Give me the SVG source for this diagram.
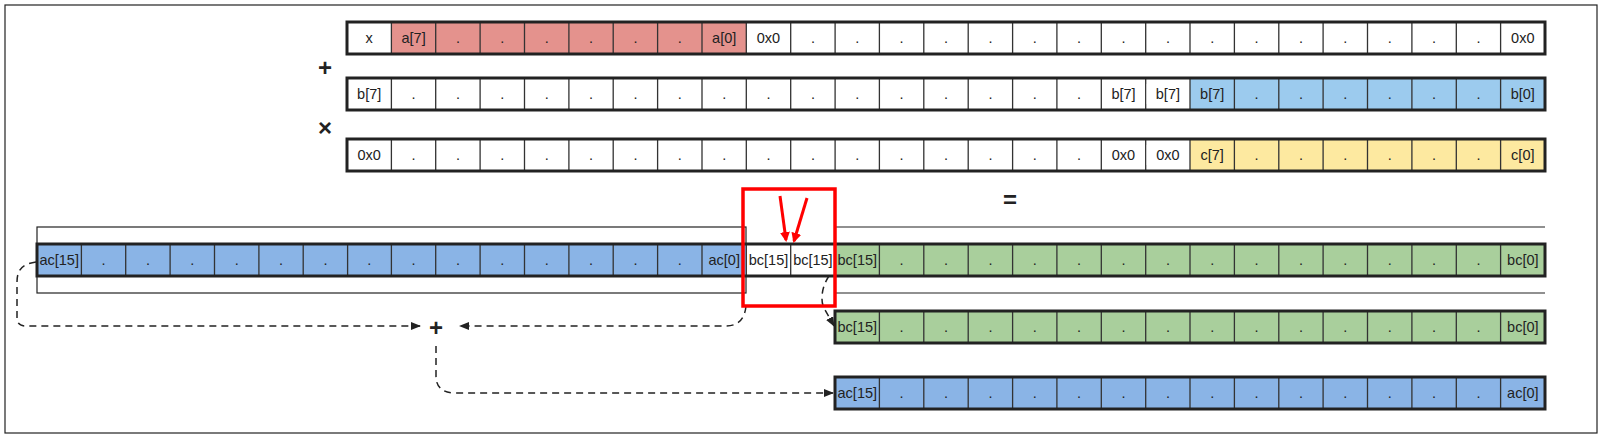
<svg xmlns="http://www.w3.org/2000/svg" xmlns:xlink="http://www.w3.org/1999/xlink" width="1602" height="443" viewBox="0 0 1602 443">
<style>
text{font-family:"Liberation Sans",Arial,sans-serif;font-size:14.5px;fill:#222;text-anchor:middle}
.op{font-size:24px;font-weight:bold}
.frame{fill:none;stroke:#222;stroke-width:3}
.vl{fill:none;stroke:#333;stroke-width:1.3}
.thin{fill:none;stroke:#222;stroke-width:1.2}
.dash{fill:none;stroke:#222;stroke-width:1.5;stroke-dasharray:7,5}
</style>
<defs>
<path id="vl" class="vl" d="M391.4 0v32M435.7 0v32M480.1 0v32M524.5 0v32M568.9 0v32M613.2 0v32M657.6 0v32M702 0v32M746.3 0v32M790.7 0v32M835.1 0v32M879.4 0v32M923.8 0v32M968.2 0v32M1012.6 0v32M1056.9 0v32M1101.3 0v32M1145.7 0v32M1190 0v32M1234.4 0v32M1278.8 0v32M1323.1 0v32M1367.5 0v32M1411.9 0v32M1456.3 0v32M1500.6 0v32"/>
<path id="vr" class="vl" d="M879.4 0v32M923.8 0v32M968.2 0v32M1012.6 0v32M1056.9 0v32M1101.3 0v32M1145.7 0v32M1190 0v32M1234.4 0v32M1278.8 0v32M1323.1 0v32M1367.5 0v32M1411.9 0v32M1456.3 0v32M1500.6 0v32"/>
<g id="dotsR"><text x="901.6">.</text><text x="946">.</text><text x="990.4">.</text><text x="1034.8">.</text><text x="1079.1">.</text><text x="1123.5">.</text><text x="1167.9">.</text><text x="1212.2">.</text><text x="1256.6">.</text><text x="1301">.</text><text x="1345.3">.</text><text x="1389.7">.</text><text x="1434.1">.</text><text x="1478.5">.</text></g>
<marker id="ah" markerWidth="10" markerHeight="8" refX="9" refY="4" orient="auto" markerUnits="userSpaceOnUse"><path d="M0 0L10 4L0 8z" fill="#222"/></marker>
<marker id="rah" markerWidth="10" markerHeight="10" refX="8" refY="5" orient="auto" markerUnits="userSpaceOnUse"><path d="M0 0L10 5L0 10z" fill="#f00"/></marker>
</defs>
<rect x="5" y="5" width="1592" height="428" fill="#fff" stroke="#222" stroke-width="1.2"/>

<g id="rowA">
<rect x="391.4" y="22" width="354.9" height="32" fill="#e4928d"/>
<use xlink:href="#vl" y="22"/>
<rect x="347" y="22" width="1198" height="32" class="frame"/>
<g transform="translate(0,43)"><text x="369.2">x</text><text x="413.6">a[7]</text><text x="457.9">.</text><text x="502.3">.</text><text x="546.7">.</text><text x="591">.</text><text x="635.4">.</text><text x="679.8">.</text><text x="724.2">a[0]</text><text x="768.5">0x0</text><text x="812.9">.</text><text x="857.3">.</text><use xlink:href="#dotsR"/><text x="1522.8">0x0</text></g>
</g>

<g id="rowB">
<rect x="1190" y="78" width="355" height="32" fill="#9ccbee"/>
<use xlink:href="#vl" y="78"/>
<rect x="347" y="78" width="1198" height="32" class="frame"/>
<g transform="translate(0,99)"><text x="369.2">b[7]</text><text x="413.6">.</text><text x="457.9">.</text><text x="502.3">.</text><text x="546.7">.</text><text x="591">.</text><text x="635.4">.</text><text x="679.8">.</text><text x="724.2">.</text><text x="768.5">.</text><text x="812.9">.</text><text x="857.3">.</text><use xlink:href="#dotsR"/><text x="1522.8">b[0]</text></g>
<g transform="translate(0,99)"><rect x="1102.3" y="-15" width="42.4" height="20" fill="#fff"/><rect x="1146.7" y="-15" width="42.3" height="20" fill="#fff"/><text x="1123.5">b[7]</text><text x="1167.9">b[7]</text><rect x="1191" y="-15" width="42" height="20" fill="#9ccbee"/><text x="1212.2">b[7]</text></g>
</g>

<g id="rowC">
<rect x="1190" y="139" width="355" height="32" fill="#fde9a0"/>
<use xlink:href="#vl" y="139"/>
<rect x="347" y="139" width="1198" height="32" class="frame"/>
<g transform="translate(0,160)"><text x="369.2">0x0</text><text x="413.6">.</text><text x="457.9">.</text><text x="502.3">.</text><text x="546.7">.</text><text x="591">.</text><text x="635.4">.</text><text x="679.8">.</text><text x="724.2">.</text><text x="768.5">.</text><text x="812.9">.</text><text x="857.3">.</text><use xlink:href="#dotsR"/><text x="1522.8">c[0]</text></g>
<g transform="translate(0,160)"><rect x="1102.3" y="-15" width="42.4" height="20" fill="#fff"/><rect x="1146.7" y="-15" width="42.3" height="20" fill="#fff"/><text x="1123.5">0x0</text><text x="1167.9">0x0</text><rect x="1191" y="-15" width="42" height="20" fill="#fde9a0"/><text x="1212.2">c[7]</text></g>
</g>

<g id="ops">
<text class="op" x="325" y="76">+</text>
<text class="op" x="325" y="136">×</text>
<text class="op" x="1010" y="208">=</text>
<text class="op" x="436" y="336">+</text>
</g>

<g id="rowBig">
<rect x="37" y="227" width="709" height="66" class="thin"/>
<path class="thin" d="M835 227H1545M835 293H1545"/>
<rect x="37" y="244" width="709" height="32" fill="#8ab4e6"/>
<rect x="746" y="244" width="89" height="32" fill="#fff"/>
<rect x="835" y="244" width="710" height="32" fill="#a9cf9c"/>
<use xlink:href="#vl" y="244"/>
<path class="vl" d="M81.4 244v32M125.7 244v32M170.1 244v32M214.5 244v32M258.9 244v32M303.2 244v32M347.6 244v32"/>
<rect x="37" y="244" width="1508" height="32" class="frame"/>
<g transform="translate(0,265)"><text x="59.2">ac[15]</text><text x="103.6">.</text><text x="147.9">.</text><text x="192.3">.</text><text x="236.7">.</text><text x="281">.</text><text x="325.4">.</text><text x="369.2">.</text><text x="413.6">.</text><text x="457.9">.</text><text x="502.3">.</text><text x="546.7">.</text><text x="591">.</text><text x="635.4">.</text><text x="679.8">.</text><text x="724.2">ac[0]</text><text x="768.5">bc[15]</text><text x="812.9">bc[15]</text><text x="857.3">bc[15]</text><use xlink:href="#dotsR"/><text x="1522.8">bc[0]</text></g>
</g>

<g id="rowD">
<rect x="835" y="311" width="710" height="32" fill="#a9cf9c"/>
<use xlink:href="#vr" y="311"/>
<rect x="835" y="311" width="710" height="32" class="frame"/>
<g transform="translate(0,332)"><text x="857.3">bc[15]</text><use xlink:href="#dotsR"/><text x="1522.8">bc[0]</text></g>
</g>

<g id="rowE">
<rect x="835" y="377" width="710" height="32" fill="#8ab4e6"/>
<use xlink:href="#vr" y="377"/>
<rect x="835" y="377" width="710" height="32" class="frame"/>
<g transform="translate(0,398)"><text x="857.3">ac[15]</text><use xlink:href="#dotsR"/><text x="1522.8">ac[0]</text></g>
</g>

<g id="connectors">
<path class="dash" d="M36 262C22 264 17 270 17 282V318Q17 326 26 326H420" marker-end="url(#ah)"/>
<path class="dash" d="M746 306Q744 326 726 326H460" marker-end="url(#ah)"/>
<path class="dash" d="M829 276C822 286 820 300 824 308L834 326" marker-end="url(#ah)"/>
<path class="dash" d="M436 346V376Q436 393 456 393H833" marker-end="url(#ah)"/>
<rect x="743" y="189" width="92" height="117" fill="none" stroke="#f00" stroke-width="3.5"/>
<path d="M780 196L786 240" stroke="#f00" stroke-width="3" fill="none" marker-end="url(#rah)"/>
<path d="M807 198L794 241" stroke="#f00" stroke-width="3" fill="none" marker-end="url(#rah)"/>
</g>
</svg>
